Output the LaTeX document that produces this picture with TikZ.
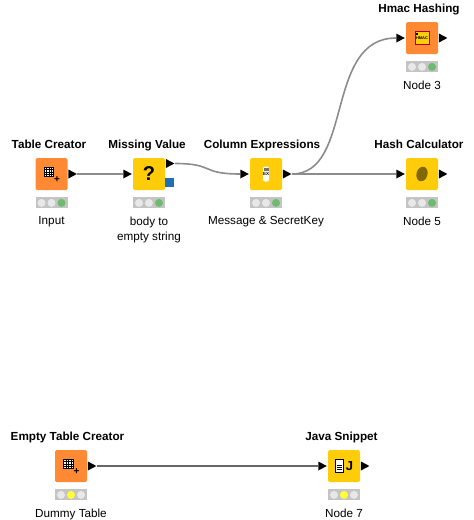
\documentclass[tikz,border=0pt]{standalone}
\usepackage{fontspec}
\setmainfont{Liberation Sans}
\usetikzlibrary{positioning, arrows.meta, calc, shapes.geometric}

\definecolor{sourceorange}{HTML}{FF8A33}
\definecolor{manipyellow}{HTML}{FFCC0A}
\definecolor{barblue}{HTML}{1F6FB5}
\definecolor{bargrey}{HTML}{C4C4C4}
\definecolor{lightoff}{HTML}{E8E8E8}
\definecolor{lightgreen}{HTML}{6DBB6D}
\definecolor{lightyellow}{HTML}{FFFF33}
\definecolor{wiregrey}{HTML}{8C8C8C}

% status bar with three lights under a node
\newcommand{\statuslights}[4]{
    \node [statusbar, below=7pt of #1] (#1status) {};
    \node [lamp, fill=#2, xshift=-10pt] (#1lampa) at (#1status) {};
    \node [lamp, fill=#3] (#1lampb) at (#1status) {};
    \node [lamp, fill=#4, xshift=10pt] (#1lampc) at (#1status) {};
}
% table with a plus sign
\newcommand{\tableicon}[1]{
    \node [gridcell, xshift=-2.5pt, yshift=2.5pt] (#1grid) at (#1) {};
    \draw [step=2.4pt, line width=0.4pt, shift={(#1grid.south west)}] (0,0) grid (9.6pt,9.6pt);
    \node [font=\bfseries\fontsize{10}{10}\selectfont, inner sep=0pt, xshift=5.5pt, yshift=-5.5pt] (#1plus) at (#1) {+};
}

\begin{document}
\begin{tikzpicture}[x=1pt, y=-1pt, node distance=7pt]
    % Styles
    \tikzstyle{box} = [rectangle, rounded corners=1.5pt, minimum size=32pt, inner sep=0pt]
    \tikzstyle{source} = [box, fill=sourceorange]
    \tikzstyle{manip} = [box, fill=manipyellow]
    \tikzstyle{port} = [isosceles triangle, isosceles triangle stretches, fill=black, inner sep=0pt, minimum width=9pt, minimum height=8.5pt]
    \tikzstyle{nodetitle} = [inner sep=0pt, text height=9pt, text depth=2.5pt, font=\bfseries\fontsize{11.7}{15}\selectfont]
    \tikzstyle{nodetext} = [inner sep=0pt, align=center, font=\fontsize{11.7}{15}\selectfont]
    \tikzstyle{statusbar} = [rectangle, fill=bargrey, minimum width=32pt, minimum height=11pt, inner sep=0pt]
    \tikzstyle{lamp} = [circle, minimum size=8pt, inner sep=0pt]
    \tikzstyle{gridcell} = [rectangle, fill=white, minimum size=9.6pt, inner sep=0pt]
    \tikzstyle{wire} = [draw=wiregrey, line width=1.6pt]

    \useasboundingbox (0,0) rectangle (474,520);

    % Nodes
    \node [source] (tablecreator) at (51.5,174) {};
    \node [manip] (missing) at (149,174) {};
    \node [manip] (colexpr) at (266,174) {};
    \node [source] (hmac) at (422,38) {};
    \node [manip] (hash) at (422,174) {};
    \node [source] (emptytable) at (71,466) {};
    \node [manip] (java) at (344,466) {};

    % Ports
    \node [port, right=0.5pt of tablecreator] (tablecreatorout) {};
    \node [port, left=0.5pt of missing] (missingin) {};
    \node [port, right=0.5pt of missing, yshift=10.5pt] (missingout) {};
    \node [rectangle, fill=barblue, minimum size=8.5pt, inner sep=0pt, right=0pt of missing, yshift=-8.5pt] (missingbar) {};
    \node [port, left=0.5pt of colexpr] (colexprin) {};
    \node [port, right=0.5pt of colexpr] (colexprout) {};
    \node [port, left=0.5pt of hmac] (hmacin) {};
    \node [port, right=0.5pt of hmac] (hmacout) {};
    \node [port, left=0.5pt of hash] (hashin) {};
    \node [port, right=0.5pt of hash] (hashout) {};
    \node [port, right=0.5pt of emptytable] (emptytableout) {};
    \node [port, left=0.5pt of java] (javain) {};
    \node [port, right=0.5pt of java] (javaout) {};

    % Titles
    \node [nodetitle, above=7pt of tablecreator, xshift=-2.5pt] (tablecreatortitle) {Table Creator};
    \node [nodetitle, above=7pt of missing, xshift=-2pt] (missingtitle) {Missing Value};
    \node [nodetitle, above=7pt of colexpr, xshift=-4pt] (colexprtitle) {Column Expressions};
    \node [nodetitle, above=7pt of hmac, xshift=-3pt] (hmactitle) {Hmac Hashing};
    \node [nodetitle, above=7pt of hash, xshift=-3pt] (hashtitle) {Hash Calculator};
    \node [nodetitle, above=7pt of emptytable, xshift=-3.5pt] (emptytabletitle) {Empty Table Creator};
    \node [nodetitle, above=7pt of java, xshift=-2.5pt] (javatitle) {Java Snippet};

    % Status lights
    \statuslights{tablecreator}{lightoff}{lightoff}{lightgreen}
    \statuslights{missing}{lightoff}{lightoff}{lightgreen}
    \statuslights{colexpr}{lightoff}{lightoff}{lightgreen}
    \statuslights{hmac}{lightoff}{lightoff}{lightgreen}
    \statuslights{hash}{lightoff}{lightoff}{lightgreen}
    \statuslights{emptytable}{lightoff}{lightyellow}{lightoff}
    \statuslights{java}{lightoff}{lightyellow}{lightoff}

    % Labels
    \node [nodetext, below=7.8pt of tablecreatorstatus] (tablecreatortext) {Input};
    \node [nodetext, below=7.8pt of missingstatus] (missingtext) {body to\\empty string};
    \node [nodetext, below=7.8pt of colexprstatus] (colexprtext) {Message \& SecretKey};
    \node [nodetext, below=7.8pt of hmacstatus] (hmactext) {Node 3};
    \node [nodetext, below=7.8pt of hashstatus] (hashtext) {Node 5};
    \node [nodetext, below=7.8pt of emptytablestatus] (emptytabletext) {Dummy Table};
    \node [nodetext, below=7.8pt of javastatus] (javatext) {Node 7};

    % Icons
    \tableicon{tablecreator}
    \tableicon{emptytable}
    \node [font=\bfseries\fontsize{20}{20}\selectfont, inner sep=0pt] (missingicon) at (missing) {?};
    \node [rectangle, rounded corners=2pt, fill=white, minimum width=6pt, minimum height=15pt, inner sep=0pt] (colexpricon) at (colexpr) {};
    \node [rectangle, fill=black!55, minimum width=5pt, minimum height=3pt, inner sep=0pt, yshift=5pt] (colexprcap) at (colexpr) {};
    \node [font=\bfseries\fontsize{4.5}{4.5}\selectfont, inner sep=0pt] (colexprex) at (colexpr) {EX};
    \node [rectangle, draw=red!70!black, fill=manipyellow, line width=0.7pt, minimum width=14pt, minimum height=13pt, inner sep=0pt, font=\bfseries\fontsize{4}{4}\selectfont] (hmacicon) at (hmac) {HMAC};
    \node [rectangle, fill=black, minimum width=2.5pt, minimum height=2pt, inner sep=0pt, xshift=-5pt, yshift=4.5pt] (hmacdot) at (hmac) {};
    \node [ellipse, fill=black!40!manipyellow!85!black, minimum width=11pt, minimum height=15pt, inner sep=0pt, rotate=-15] (hashicon) at (hash) {};
    \node [rectangle, draw=black, fill=white, line width=0.8pt, minimum width=8pt, minimum height=13pt, inner sep=0pt, xshift=-5pt] (javadoc) at (java) {};
    \draw [line width=0.6pt] ($(javadoc)+(-2.5,-1)$) -- ++(5,0) ($(javadoc)+(-2.5,1)$) -- ++(5,0) ($(javadoc)+(-2.5,3)$) -- ++(5,0);
    \node [font=\bfseries\fontsize{13}{13}\selectfont, inner sep=0pt, xshift=5.5pt] (javaj) at (java) {J};

    % Arrows
    \draw [wire] (tablecreatorout.apex) -- (missingin.west);
    \draw [wire] (missingout.apex) .. controls +(40,0) and +(-40,0) .. (colexprin.west);
    \draw [wire] (colexprout.apex) .. controls +(62,0) and +(-72,0) .. (hmacin.west);
    \draw [wire] (colexprout.apex) -- (hashin.west);
    \draw [wire, line width=1.1pt, draw=black!60] (emptytableout.apex) -- (javain.west);
\end{tikzpicture}
\end{document}
